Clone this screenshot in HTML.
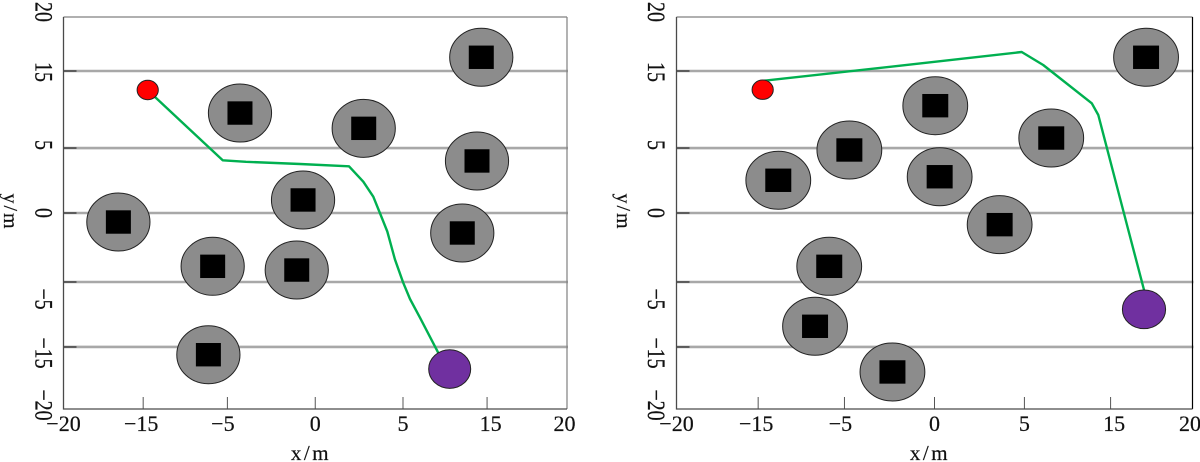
<!DOCTYPE html>
<html>
<head>
<meta charset="utf-8">
<style>
html,body{margin:0;padding:0;background:#fff;width:1200px;height:462px;overflow:hidden}
svg{display:block}
text{font-family:"Liberation Serif",serif;fill:#111;stroke:#111;stroke-width:.2}
</style>
</head>
<body>
<svg id="chart" width="1200" height="462" viewBox="0 0 1200 462" xmlns="http://www.w3.org/2000/svg">
  <g id="panel-a"></g>
  <g id="panel-b"></g>
  <text x="311" y="460" font-size="21" text-anchor="middle" letter-spacing="2.5">x/m</text>
  <text x="930" y="460" font-size="21" text-anchor="middle" letter-spacing="2.5">x/m</text>
  <text transform="translate(4,212) rotate(90)" font-size="20" text-anchor="middle" letter-spacing="2">y/m</text>
  <text transform="translate(617,212) rotate(90)" font-size="20" text-anchor="middle" letter-spacing="2">y/m</text>
</svg>
<script>
var xTickLabels = ['\u221220', '\u221215', '\u22125', '0', '5', '15', '20'];
var yTickLabels = ['20', '15', '5', '0', '\u22125', '\u221215', '\u221220'];
var xTickValues = [-20, -13.67, -6.98, 0, 6.97, 13.65, 20];
var yTickValues = [20, 14.49, 6.63, 0, -7.04, -13.67, -20];

var leftObstacleX = [-15.64, -5.98, 3.85, 13.19, 12.85, 11.68, -0.97, -8.15, -1.47, -8.49];
var leftObstacleY = [-0.92, 10.2, 8.64, 15.89, 5.31, -2.04, 1.33, -5.44, -5.82, -14.46];
var leftPathX = [-12.73, -7.35, -5.5, -1.21, 2.68, 3.82, 4.61, 5.14, 5.72, 6.33, 6.99, 7.53, 8.32, 9.77];
var leftPathY = [11.84, 5.38, 5.22, 5.0, 4.77, 3.19, 1.66, 0, -1.89, -4.72, -7.11, -8.78, -10.68, -14.26];
var leftStart = [-13.31, 12.55];
var leftGoal = [10.68, -15.92];

var rightObstacleX = [-12.11, -6.6, 0.06, 0.4, 9.05, 16.4, 5.05, -8.16, -9.26, -3.26];
var rightObstacleY = [3.34, 6.43, 10.95, 3.7, 7.65, 15.89, -1.19, -5.44, -11.56, -16.22];
var rightPathX = [-13.4, -2.67, 6.76, 8.43, 12.19, 12.7, 15.02, 16.26];
var rightPathY = [13.47, 15.03, 16.43, 15.1, 11.19, 10.0, -1.73, -7.96];
var rightStart = [-13.32, 12.58];
var rightGoal = [16.24, -9.83];

var NS = 'http://www.w3.org/2000/svg';
function make(parent, tag, attrs) {
  var el = document.createElementNS(NS, tag);
  for (var k in attrs) el.setAttribute(k, attrs[k]);
  parent.appendChild(el);
  return el;
}

function drawPanel(root, box, d) {
  var sx = function (v) { return box.left + (v + 20) / 40 * (box.right - box.left); };
  var sy = function (v) { return box.top + (20 - v) / 40 * (box.bottom - box.top); };
  var i, el;

  // horizontal grid lines and y ticks
  for (i = 1; i < yTickValues.length - 1; i++) {
    el = make(root, 'line', { x1: box.left, x2: box.right + 1, y1: sy(yTickValues[i]), y2: sy(yTickValues[i]), stroke: '#a8a8a8', 'stroke-width': 2.6 });
    
    
    el = make(root, 'line', { x1: box.left, x2: box.left + 13, y1: sy(yTickValues[i]), y2: sy(yTickValues[i]), stroke: '#444', 'stroke-width': 1.5 });
    
    
  }

  // x ticks
  for (i = 1; i < xTickValues.length - 1; i++) {
    el = make(root, 'line', { x1: sx(xTickValues[i]), x2: sx(xTickValues[i]), y1: box.bottom, y2: box.bottom - 12, stroke: '#555', 'stroke-width': 1 });
    
    
  }

  // frame
  el = make(root, 'path', { d: 'M' + box.left + ' ' + box.top + 'H' + box.right, fill: 'none', stroke: '#808080', 'stroke-width': 1.3 });
  
  
  el = make(root, 'path', { d: 'M' + box.right + ' ' + box.top + 'V' + box.bottom, fill: 'none', stroke: box.rightStroke, 'stroke-width': 1.2 });
  
  
  el = make(root, 'path', { d: 'M' + box.left + ' ' + box.top + 'V' + box.bottom + 'H' + box.right, fill: 'none', stroke: '#4a4a4a', 'stroke-width': 1.3 });
  
  

  // tick labels
  for (i = 0; i < xTickLabels.length; i++) {
    el = make(root, 'text', { x: sx(xTickValues[i]) + box.xNudge[i], y: 431, 'font-size': 22, 'text-anchor': 'middle' });
    
    
    el.textContent = xTickLabels[i];
  }
  for (i = 0; i < yTickLabels.length; i++) {
    el = make(root, 'text', { transform: 'translate(' + box.yLabelX + ',' + (sy(yTickValues[i]) + box.yNudge[i]) + ') rotate(90) scale(1,1.25)', 'font-size': 20, 'text-anchor': 'middle' });
    
    
    el.textContent = yTickLabels[i];
  }

  // trajectory
  var pts = d.pathX.map(function (v, j) { return sx(v).toFixed(1) + ',' + sy(d.pathY[j]).toFixed(1); }).join(' ');
  el = make(root, 'polyline', { points: pts, fill: 'none', stroke: '#00b050', 'stroke-width': 2.4, 'stroke-linejoin': 'round' });
  
  

  // obstacles
  for (i = 0; i < d.obsX.length; i++) {
    el = make(root, 'ellipse', { cx: sx(d.obsX[i]), cy: sy(d.obsY[i]), rx: box.obsRx, ry: 29, fill: '#8c8c8c', stroke: '#222', 'stroke-width': 1 });
    
    
    el = make(root, 'rect', { x: sx(d.obsX[i]) - box.sqW / 2, y: sy(d.obsY[i]) - 11.7, width: box.sqW, height: 23.4, fill: '#000' });
    
    
  }

  // start and goal
  el = make(root, 'ellipse', { cx: sx(d.start[0]), cy: sy(d.start[1]), rx: 10.6, ry: 9.7, fill: '#ff0000', stroke: '#222', 'stroke-width': 1 });
  
  
  el = make(root, 'ellipse', { cx: sx(d.goal[0]), cy: sy(d.goal[1]), rx: box.goalRx, ry: 19.3, fill: '#7030a0', stroke: '#222', 'stroke-width': 1 });
  
  
}

drawPanel(document.getElementById('panel-a'), {
  left: 63.5, right: 567, top: 17, bottom: 409, rightStroke: '#808080', obsRx: 31.6, sqW: 25, goalRx: 21,
  yLabelX: 35.5, xNudge: [0, -2, -4.5, 0, 0, 3.5, -2.5], yNudge: [-5, 1, -3, 0, 17, 6, -4]
}, { obsX: leftObstacleX, obsY: leftObstacleY, pathX: leftPathX, pathY: leftPathY, start: leftStart, goal: leftGoal });

drawPanel(document.getElementById('panel-b'), {
  left: 676.5, right: 1192.5, top: 17, bottom: 409, rightStroke: '#000', obsRx: 32.4, sqW: 26, goalRx: 21.6,
  yLabelX: 648, xNudge: [0, -2, -4, 0, 0, 3.5, -2.5], yNudge: [-5, 1, -3, 0, 17, 6, -4]
}, { obsX: rightObstacleX, obsY: rightObstacleY, pathX: rightPathX, pathY: rightPathY, start: rightStart, goal: rightGoal });
</script>
</body>
</html>
